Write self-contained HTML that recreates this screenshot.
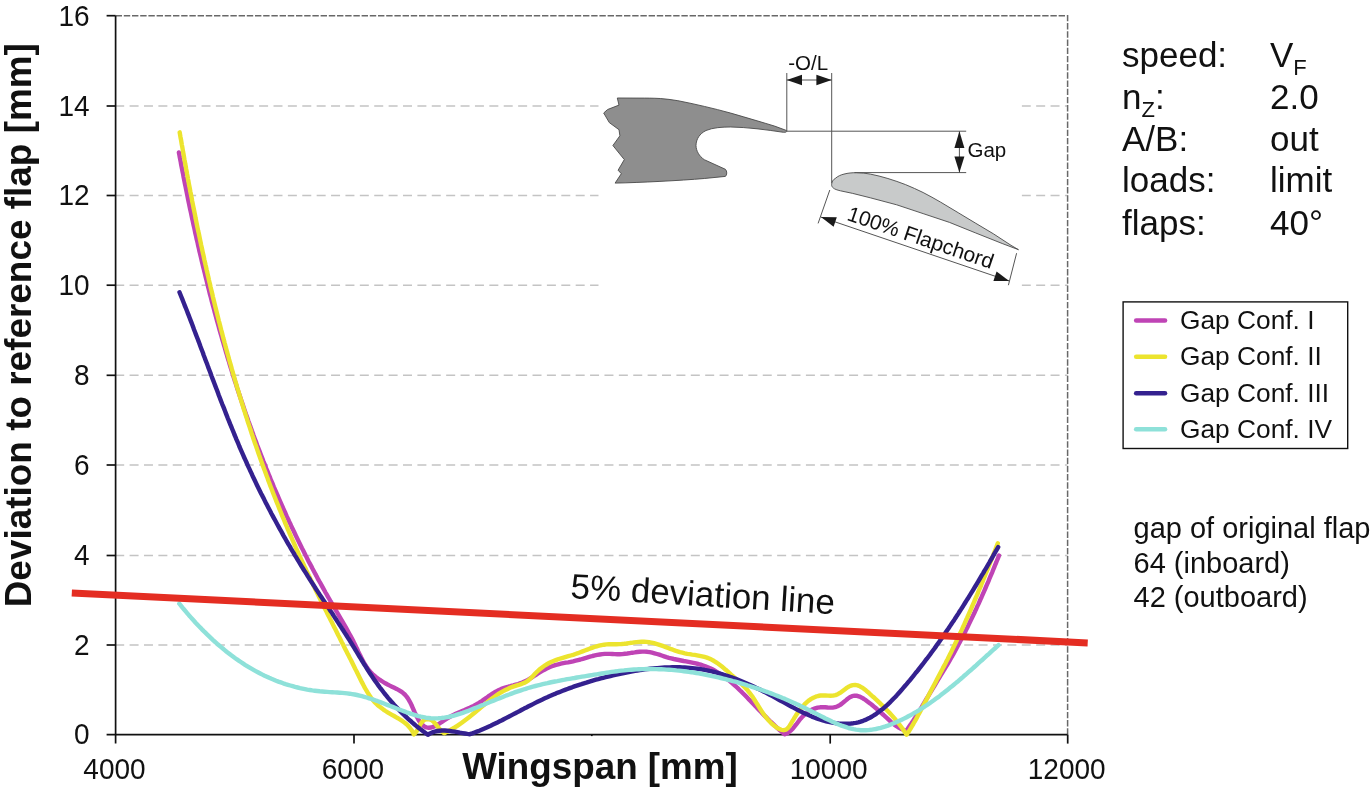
<!DOCTYPE html>
<html lang="en"><head><meta charset="utf-8"><title>Deviation to reference flap</title>
<style>html,body{margin:0;padding:0;background:#fff}body{width:1371px;height:796px;overflow:hidden}svg{display:block}text{font-family:"Liberation Sans",Arial,Helvetica,sans-serif;fill:#111}</style></head><body>
<svg width="1371" height="796" viewBox="0 0 1371 796">
<rect width="1371" height="796" fill="#fff"/>
<g stroke="#c4c4c4" stroke-width="1.5" stroke-dasharray="9 5.39" fill="none">
<line x1="115.2" y1="645.0" x2="1067.6" y2="645.0"/>
<line x1="115.2" y1="555.5" x2="1067.6" y2="555.5"/>
<line x1="115.2" y1="465.0" x2="1067.6" y2="465.0"/>
<line x1="115.2" y1="375.3" x2="1067.6" y2="375.3"/>
<line x1="115.2" y1="285.2" x2="1067.6" y2="285.2"/>
<line x1="115.2" y1="195.5" x2="1067.6" y2="195.5"/>
<line x1="115.2" y1="106.0" x2="1067.6" y2="106.0"/>
</g>
<path d="M115.6 15.7 H1067.6 V734.6" stroke="#686868" stroke-width="1.5" stroke-dasharray="6.4 1.8" fill="none"/>
<rect x="598.5" y="30" width="423" height="300" fill="#fff"/>
<path d="M617.3 98 L619 105.1 L607.6 109.5 L603.7 113 L609.3 122.6 L619 129.7 L619.9 135.8 L612.9 145.5 L624.3 159.6 L618.1 170.2 L621.3 173.7 L615.1 183.1 C640 182.6 680 180.6 704.3 178.5 L725.4 176.4 C727.2 175 727.2 171 725.4 169.3 L704.3 159.7 C699 156 696.2 151 696 145.5 C696.2 139 699.5 133.8 706 130.5 C713 127.6 722 127 730.7 127 C748 127.3 766 129.7 783.4 132.3 C786 132.6 787.2 131.6 786.6 130.6 L785.2 130 L774.6 126.1 C768.7 124.3 763 122.6 757 120.8 C748 118.2 739.5 115.6 730.7 113.1 C722 110.7 713 108.4 704.3 106.4 C695.5 104.4 686.5 102.3 677.9 100.7 C672 99.7 666 98.9 660.3 98.5 C653 98.1 646 98.1 640 98.1 Z" fill="#8e8e8e" stroke="#4a4a4a" stroke-width="0.9" stroke-linejoin="round"/>
<path d="M831.6 184.6 C831.8 181.5 833 179.8 835.2 178.5 C838 176 841 174.8 844 174.1 C848 173 852 172.7 856.3 172.7 C861 172.7 866 173.2 870.3 174.1 C876 175.2 882 176.7 887.9 178.5 C894 180.4 900 182.4 905.5 184.6 C911.5 187 917.5 189.8 923.1 192.5 C929 195.5 935 198.9 940.7 202.2 L958.2 212.7 L975.8 223.3 L993.4 233.8 L1011 245.3 L1018.5 249.7 L1002.2 243.5 L975.8 233 L949.5 222.4 L923.1 213.6 L896.7 204.8 L870.3 197.8 L852.7 193.4 L840.4 190.8 C837 190 834.8 189.2 833.4 188.1 C832.2 187.2 831.6 186 831.6 184.6 Z" fill="#c8caca" stroke="#4a4a4a" stroke-width="0.9" stroke-linejoin="round"/>
<g stroke="#555" stroke-width="1" fill="none">
<line x1="786.8" y1="73" x2="786.8" y2="131.2"/>
<line x1="831.7" y1="73" x2="831.7" y2="183"/>
<line x1="786.8" y1="80" x2="831.7" y2="80"/>
<line x1="786.8" y1="131.2" x2="966.2" y2="131.2"/>
<line x1="854.5" y1="172.6" x2="966.2" y2="172.6"/>
<line x1="959.4" y1="131.2" x2="959.4" y2="172.6"/>
<line x1="829.8" y1="190" x2="818.1" y2="223.4"/>
<line x1="1016.6" y1="253.2" x2="1008.4" y2="285.2"/>
<line x1="821" y1="217.1" x2="1009.2" y2="281"/>
</g>
<g fill="#1a1a1a">
<path d="M786.8 80 L802 74.7 L802 85.3 Z"/>
<path d="M831.7 80 L816.4 74.7 L816.4 85.3 Z"/>
<path d="M959.4 131.2 L954.4 147.9 L964.4 147.9 Z"/>
<path d="M959.4 172.6 L954.4 156.5 L964.4 156.5 Z"/>
<path d="M0 0 L15 -5 L15 5 Z" transform="translate(821 217.1) rotate(18.75)"/>
<path d="M0 0 L-15 -5 L-15 5 Z" transform="translate(1009.2 281) rotate(18.75)"/>
</g>
<text x="788.3" y="69.7" font-size="20.5">-O/L</text>
<text x="967.5" y="156.8" font-size="20.5">Gap</text>
<text transform="translate(915.1 249.05) rotate(18.75)" x="1.5" y="-5.5" text-anchor="middle" font-size="21">100% Flapchord</text>
<g stroke="#111" stroke-width="1.7" fill="none">
<line x1="115.6" y1="15.7" x2="115.6" y2="743.6"/>
<line x1="106.6" y1="734.6" x2="1067.6" y2="734.6"/>
<line x1="106.6" y1="645.0" x2="115.6" y2="645.0"/>
<line x1="106.6" y1="555.5" x2="115.6" y2="555.5"/>
<line x1="106.6" y1="465.0" x2="115.6" y2="465.0"/>
<line x1="106.6" y1="375.3" x2="115.6" y2="375.3"/>
<line x1="106.6" y1="285.2" x2="115.6" y2="285.2"/>
<line x1="106.6" y1="195.5" x2="115.6" y2="195.5"/>
<line x1="106.6" y1="106.0" x2="115.6" y2="106.0"/>
<line x1="106.6" y1="15.7" x2="115.6" y2="15.7"/>
<line x1="354.0" y1="734.6" x2="354.0" y2="743.6"/>
<line x1="830.2" y1="734.6" x2="830.2" y2="743.6"/>
<line x1="1067.7" y1="734.6" x2="1067.7" y2="743.6"/>
<line x1="591.8" y1="734.6" x2="591.8" y2="736.1"/>
</g>
<g fill="none" stroke-width="4.4" stroke-linecap="round" stroke-linejoin="round">
<path d="M178.9 152.5l0.5 2.5l0.4 2.4l0.5 2.5l0.5 2.4l0.4 2.5l0.5 2.5l0.5 2.4l0.5 2.5l0.5 2.4l0.4 2.5l0.5 2.5l0.5 2.4l0.5 2.5l0.5 2.4l0.5 2.5l0.5 2.4l0.5 2.5l0.5 2.4l0.5 2.5l0.5 2.5l0.5 2.4l0.5 2.5l0.5 2.4l0.6 2.5l0.5 2.4l0.5 2.5l0.5 2.4l0.6 2.5l0.5 2.4l0.5 2.4l0.6 2.5l0.5 2.4l0.5 2.5l0.6 2.4l0.5 2.5l0.6 2.4l0.6 2.5l0.5 2.4l0.6 2.4l0.5 2.5l0.6 2.4l0.6 2.5l0.6 2.4l0.5 2.4l0.6 2.5l0.6 2.4l0.6 2.4l0.6 2.5l0.6 2.4l0.6 2.4l0.6 2.5l0.6 2.4l0.6 2.4l0.6 2.5l0.6 2.4l0.6 2.4l0.6 2.5l0.6 2.4l0.7 2.4l0.6 2.4l0.6 2.5l0.7 2.4l0.6 2.4l0.7 2.4l0.6 2.4l0.7 2.5l0.6 2.4l0.7 2.4l0.6 2.4l0.7 2.4l0.7 2.4l0.6 2.4l0.7 2.5l0.7 2.4l0.7 2.4l0.7 2.4l0.7 2.4l0.7 2.4l0.7 2.4l0.7 2.4l0.7 2.4l0.7 2.4l0.7 2.4l0.7 2.4l0.7 2.4l0.8 2.4l0.7 2.4l0.7 2.4l0.8 2.4l0.7 2.4l0.8 2.4l0.7 2.4l0.8 2.4l0.7 2.3l0.8 2.4l0.8 2.4l0.7 2.4l0.8 2.4l0.8 2.4l0.8 2.3l0.8 2.4l0.8 2.4l0.8 2.4l0.8 2.3l0.8 2.4l0.8 2.4l0.8 2.3l0.8 2.4l0.9 2.4l0.8 2.3l0.8 2.4l0.9 2.4l0.8 2.3l0.9 2.4l0.8 2.3l0.9 2.4l0.8 2.3l0.9 2.4l0.9 2.3l0.9 2.4l0.8 2.3l0.9 2.4l0.9 2.3l0.9 2.3l0.9 2.4l0.9 2.3l0.9 2.3l0.9 2.4l1 2.3l0.9 2.3l0.9 2.4l1 2.3l0.9 2.3l0.9 2.3l1 2.3l0.9 2.4l1 2.3l1 2.3l0.9 2.3l1 2.3l1 2.3l1 2.3l1 2.3l1 2.3l1 2.3l1 2.3l1 2.3l1 2.3l1 2.3l1.1 2.2l1 2.3l1 2.3l1.1 2.3l1 2.3l1.1 2.2l1 2.3l1.1 2.3l1.1 2.2l1.1 2.3l1 2.3l1.1 2.2l1.1 2.3l1.1 2.2l1.1 2.3l1.1 2.2l1.1 2.3l1.2 2.2l1.1 2.2l1.1 2.3l1.2 2.2l1.1 2.2l1.1 2.3l1.2 2.2l1.2 2.2l1.1 2.2l1.2 2.2l1.2 2.2l1.2 2.2l1.1 2.2l1.2 2.3l1.2 2.1l1.3 2.2l1.2 2.2l1.2 2.2l1.2 2.2l1.2 2.2l1.3 2.2l1.2 2.1l1.3 2.2l1.2 2.2l1.3 2.2l1.2 2.1l1.3 2.2l1.3 2.1l1.3 2.2l1.2 2.1l1.3 2.2l1.3 2.2l1.2 2.1l1.3 2.2l1.2 2.2l1.3 2.1l1.2 2.2l1.2 2.2l1.2 2.2l1.2 2.2l1.2 2.2l1.2 2.2l1.1 2.3l1.1 2.2l1.1 2.3l1.1 2.2l1 2.3l1.1 2.3l1.1 2.2l1.1 2.3l1.2 2.2l1.2 2.2l1.3 2.1l1.3 2.1l1.5 2.1l1.5 1.9l1.7 1.9l1.8 1.8l1.9 1.6l1.9 1.6l2.1 1.4l2.1 1.4l2.1 1.3l2.2 1.3l2.2 1.2l2.2 1.1l2.2 1.1l2.3 1.1l2.3 1.1l2.2 1.2l2.1 1.3l2 1.4l1.9 1.7l1.6 1.9l1.5 2l1.3 2.2l1.2 2.2l1.1 2.2l1 2.3l1 2.3l1 2.3l1.1 2.3l1.1 2.2l1.1 2.2l1.3 2.2l1.4 2.1l1.7 1.8l1.9 1.6l2.3 1.1l2.4 0.4l2.5 -0.3l2.4 -0.8l2.3 -1l2.1 -1.3l2.1 -1.4l2.1 -1.4l2.1 -1.4l2.1 -1.4l2.1 -1.2l2.2 -1.3l2.2 -1.1l2.3 -1.1l2.3 -1.1l2.3 -1l2.3 -1l2.3 -0.9l2.3 -1l2.3 -1l2.2 -1.1l2.3 -1.1l2.2 -1.2l2.2 -1.2l2.1 -1.4l2.1 -1.3l2 -1.5l2.1 -1.4l2 -1.5l2.1 -1.4l2.1 -1.4l2.1 -1.3l2.2 -1.2l2.2 -1.2l2.3 -1l2.3 -0.8l2.4 -0.8l2.4 -0.6l2.5 -0.7l2.4 -0.6l2.4 -0.7l2.4 -0.7l2.4 -0.8l2.3 -0.9l2.3 -1.1l2.2 -1.1l2.2 -1.2l2.1 -1.3l2.2 -1.4l2.1 -1.3l2.1 -1.4l2.1 -1.3l2.1 -1.3l2.2 -1.2l2.2 -1.2l2.3 -1.1l2.3 -0.9l2.4 -0.8l2.4 -0.8l2.4 -0.6l2.4 -0.6l2.5 -0.5l2.5 -0.5l2.4 -0.4l2.5 -0.5l2.4 -0.5l2.5 -0.6l2.4 -0.6l2.4 -0.6l2.4 -0.7l2.4 -0.7l2.4 -0.7l2.4 -0.7l2.5 -0.7l2.4 -0.6l2.4 -0.5l2.5 -0.4l2.5 -0.4l2.5 -0.2l2.5 0l2.5 0l2.5 0.1l2.5 0.1l2.5 0.1l2.5 0l2.5 -0.1l2.5 -0.3l2.5 -0.3l2.5 -0.4l2.4 -0.4l2.5 -0.3l2.5 -0.4l2.5 -0.2l2.5 -0.2l2.5 0l2.5 0.2l2.5 0.4l2.4 0.5l2.4 0.6l2.5 0.7l2.3 0.7l2.4 0.8l2.4 0.8l2.4 0.8l2.4 0.7l2.4 0.6l2.5 0.6l2.4 0.5l2.5 0.5l2.4 0.5l2.5 0.5l2.4 0.4l2.5 0.5l2.5 0.5l2.4 0.5l2.5 0.5l2.4 0.6l2.4 0.7l2.4 0.8l2.3 0.8l2.4 0.9l2.3 1l2.2 1.1l2.2 1.2l2.2 1.3l2.1 1.3l2.1 1.3l2.1 1.5l2 1.4l2 1.6l2 1.5l1.9 1.6l1.9 1.7l1.9 1.6l1.8 1.7l1.8 1.7l1.8 1.8l1.8 1.7l1.8 1.8l1.8 1.8l1.7 1.8l1.7 1.8l1.8 1.8l1.7 1.8l1.7 1.8l1.8 1.8l1.7 1.8l1.7 1.8l1.8 1.9l1.7 1.8l1.7 1.7l1.8 1.8l1.8 1.8l1.8 1.8l1.8 1.7l1.8 1.7l1.8 1.7l1.9 1.7l1.8 1.7l1.9 1.6l2 1.6l1.9 1.6l2.3 -1l2.1 -1.4l2 -1.6l1.8 -1.8l1.6 -2l1.6 -2l1.5 -2l1.5 -2l1.6 -2l1.7 -1.9l1.8 -1.7l2 -1.7l2 -1.5l2.2 -1.3l2.2 -1.1l2.4 -0.9l2.5 -0.7l2.5 -0.4l2.5 0l2.5 0l2.6 0.2l2.5 0.1l2.5 0l2.5 -0.4l2.4 -0.9l2.2 -1.2l2.1 -1.5l1.9 -1.6l2 -1.6l1.9 -1.6l2.1 -1.5l2.3 -1.1l2.5 -0.5l2.5 0.1l2.4 0.8l2.3 1.1l2.2 1.3l2.1 1.4l2 1.5l2 1.5l2 1.6l1.9 1.6l2 1.7l1.9 1.6l1.9 1.7l1.9 1.7l1.9 1.7l1.8 1.7l1.9 1.7l1.9 1.8l1.8 1.7l2 1.6l1.9 1.6l2.1 1.4l2.2 1.4l2.2 1.1l2.4 1l2.4 0.7l1.5 -2l1.5 -2.1l1.4 -2l1.4 -2.1l1.4 -2.1l1.4 -2.1l1.3 -2.2l1.3 -2.1l1.4 -2.1l1.3 -2.2l1.3 -2.1l1.3 -2.2l1.2 -2.1l1.3 -2.2l1.3 -2.2l1.3 -2.1l1.3 -2.2l1.3 -2.2l1.3 -2.1l1.3 -2.2l1.3 -2.1l1.3 -2.2l1.3 -2.1l1.3 -2.2l1.3 -2.1l1.3 -2.2l1.3 -2.1l1.3 -2.2l1.3 -2.1l1.3 -2.2l1.3 -2.1l1.3 -2.2l1.3 -2.2l1.2 -2.1l1.3 -2.2l1.2 -2.2l1.2 -2.2l1.2 -2.2l1.2 -2.2l1.2 -2.2l1.2 -2.3l1.2 -2.2l1.1 -2.2l1.2 -2.3l1.1 -2.2l1.2 -2.2l1.1 -2.3l1.1 -2.2l1.1 -2.3l1.1 -2.3l1.1 -2.2l1.1 -2.3l1.1 -2.3l1.1 -2.2l1 -2.3l1.1 -2.3l1 -2.3l1.1 -2.3l1 -2.3l1 -2.3l1.1 -2.3l1 -2.3l1 -2.3l1 -2.3l1 -2.3l1 -2.3l1 -2.3l1 -2.3l0.9 -2.3l1 -2.4l1 -2.3l1 -2.3l0.9 -2.3l1 -2.4l0.9 -2.3l1 -2.3l0.9 -2.3l1 -2.4l0.9 -2.3" stroke="#bf44b5"/>
<path d="M179.7 132.3l0.4 2.5l0.4 2.4l0.5 2.5l0.4 2.5l0.4 2.4l0.5 2.5l0.4 2.4l0.4 2.5l0.5 2.5l0.4 2.4l0.4 2.5l0.5 2.5l0.4 2.4l0.5 2.5l0.4 2.4l0.5 2.5l0.4 2.5l0.5 2.4l0.4 2.5l0.5 2.4l0.4 2.5l0.5 2.4l0.5 2.5l0.4 2.5l0.5 2.4l0.5 2.5l0.5 2.4l0.4 2.5l0.5 2.4l0.5 2.5l0.5 2.4l0.5 2.5l0.5 2.4l0.5 2.5l0.4 2.4l0.5 2.5l0.5 2.4l0.5 2.5l0.5 2.4l0.5 2.5l0.6 2.4l0.5 2.5l0.5 2.4l0.5 2.5l0.5 2.4l0.5 2.5l0.6 2.4l0.5 2.5l0.5 2.4l0.6 2.4l0.5 2.5l0.5 2.4l0.6 2.5l0.5 2.4l0.6 2.5l0.5 2.4l0.6 2.4l0.5 2.5l0.6 2.4l0.5 2.4l0.6 2.5l0.6 2.4l0.5 2.4l0.6 2.5l0.6 2.4l0.6 2.4l0.5 2.5l0.6 2.4l0.6 2.4l0.6 2.5l0.6 2.4l0.6 2.4l0.6 2.5l0.6 2.4l0.6 2.4l0.6 2.4l0.6 2.5l0.7 2.4l0.6 2.4l0.6 2.4l0.6 2.4l0.7 2.5l0.6 2.4l0.6 2.4l0.7 2.4l0.6 2.4l0.7 2.4l0.6 2.5l0.7 2.4l0.6 2.4l0.7 2.4l0.7 2.4l0.6 2.4l0.7 2.4l0.7 2.4l0.7 2.4l0.6 2.4l0.7 2.4l0.7 2.4l0.7 2.4l0.7 2.4l0.7 2.4l0.7 2.4l0.7 2.4l0.7 2.4l0.8 2.4l0.7 2.4l0.7 2.4l0.7 2.4l0.8 2.4l0.7 2.4l0.7 2.4l0.8 2.4l0.7 2.4l0.8 2.3l0.7 2.4l0.8 2.4l0.8 2.4l0.7 2.4l0.8 2.3l0.8 2.4l0.8 2.4l0.8 2.4l0.7 2.3l0.8 2.4l0.8 2.4l0.8 2.3l0.8 2.4l0.9 2.4l0.8 2.3l0.8 2.4l0.8 2.4l0.8 2.3l0.9 2.4l0.8 2.3l0.9 2.4l0.8 2.3l0.8 2.4l0.9 2.4l0.9 2.3l0.8 2.3l0.9 2.4l0.9 2.3l0.8 2.4l0.9 2.3l0.9 2.4l0.9 2.3l0.9 2.3l0.9 2.4l0.9 2.3l0.9 2.3l0.9 2.3l0.9 2.4l1 2.3l0.9 2.3l0.9 2.3l1 2.4l0.9 2.3l0.9 2.3l1 2.3l1 2.3l0.9 2.3l1 2.3l1 2.3l0.9 2.3l1 2.3l1 2.3l1 2.3l1 2.3l1 2.3l1 2.3l1 2.3l1 2.3l1 2.2l1.1 2.3l1 2.3l1 2.3l1.1 2.3l1 2.2l1.1 2.3l1 2.3l1.1 2.2l1 2.3l1.1 2.3l1.1 2.2l1.1 2.3l1 2.2l1.1 2.3l1.1 2.2l1.1 2.3l1.1 2.2l1.1 2.3l1.1 2.2l1.1 2.3l1.1 2.2l1.1 2.2l1.1 2.3l1.1 2.2l1.1 2.3l1.1 2.2l1.2 2.2l1.1 2.3l1.1 2.2l1.1 2.2l1.2 2.3l1.1 2.2l1.1 2.2l1.1 2.3l1.2 2.2l1.1 2.2l1.1 2.3l1.1 2.2l1.2 2.2l1.1 2.3l1.1 2.2l1.2 2.2l1.1 2.3l1.1 2.2l1.1 2.2l1.2 2.3l1.1 2.2l1.1 2.2l1.2 2.2l1.1 2.3l1.1 2.2l1.1 2.3l1.1 2.2l1.2 2.2l1.1 2.3l1.1 2.2l1.1 2.2l1.1 2.3l1.1 2.2l1.2 2.2l1.1 2.3l1.2 2.1l1.3 2.2l1.3 2.1l1.4 2.1l1.4 2.1l1.5 2l1.6 1.9l1.7 1.8l1.8 1.8l1.9 1.6l2 1.5l2 1.5l2.1 1.4l2.1 1.3l2.2 1.3l2.1 1.2l2.2 1.2l2.2 1.3l2.1 1.2l2.2 1.4l2 1.3l2.1 1.5l1.9 1.6l1.8 1.8l1.6 1.9l1.5 2l1.3 2.1l1 2.3l1.8 -1.8l1.5 -2.1l1.2 -2.3l1.2 -2.3l1.3 -2.2l1.5 -2.1l2 -1.6l2.5 -0.8l2.5 0.1l2.4 1l2 1.6l1.8 1.9l1.6 2l1.6 2l1.6 2l1.8 1.9l2.1 1.5l2.3 -1.1l2.2 -1.2l2.2 -1.2l2.1 -1.2l2.2 -1.3l2.1 -1.4l2.1 -1.4l2 -1.4l2 -1.5l2 -1.5l2 -1.5l2 -1.5l2 -1.6l1.9 -1.6l1.9 -1.6l2 -1.6l1.9 -1.6l1.9 -1.6l1.9 -1.6l2 -1.6l1.9 -1.6l2 -1.6l1.9 -1.5l2 -1.5l2.1 -1.5l2 -1.4l2.1 -1.4l2.1 -1.3l2.2 -1.3l2.2 -1.1l2.3 -1.1l2.2 -1.1l2.4 -0.9l2.3 -0.8l2.4 -0.8l2.4 -0.7l2.4 -0.8l2.3 -0.9l2.3 -1.1l2 -1.4l1.9 -1.7l1.8 -1.7l1.7 -1.9l1.7 -1.8l1.8 -1.8l1.8 -1.7l2 -1.6l2 -1.5l2 -1.4l2.2 -1.3l2.2 -1.2l2.2 -1.1l2.3 -0.9l2.4 -0.9l2.3 -0.9l2.4 -0.7l2.4 -0.7l2.4 -0.7l2.5 -0.7l2.4 -0.7l2.4 -0.7l2.3 -0.8l2.4 -0.8l2.4 -0.9l2.3 -0.9l2.3 -0.9l2.4 -0.9l2.3 -0.9l2.4 -0.8l2.3 -0.9l2.4 -0.7l2.4 -0.6l2.5 -0.6l2.5 -0.4l2.4 -0.3l2.5 -0.1l2.6 -0.1l2.5 0l2.5 0l2.5 -0.1l2.5 -0.1l2.5 -0.2l2.4 -0.3l2.5 -0.4l2.5 -0.3l2.5 -0.4l2.5 -0.3l2.5 -0.2l2.5 -0.2l2.5 0l2.5 0.2l2.5 0.3l2.4 0.4l2.5 0.6l2.4 0.7l2.4 0.7l2.3 0.8l2.4 0.8l2.4 0.9l2.3 0.9l2.3 0.9l2.4 0.8l2.4 0.9l2.3 0.7l2.4 0.8l2.5 0.6l2.4 0.6l2.5 0.5l2.4 0.4l2.5 0.4l2.5 0.3l2.4 0.4l2.5 0.5l2.5 0.5l2.4 0.6l2.4 0.7l2.3 0.9l2.3 1.1l2.2 1.2l2.1 1.3l2.1 1.4l2 1.5l2 1.5l1.9 1.6l1.9 1.7l1.9 1.6l1.9 1.7l1.8 1.7l1.9 1.7l1.8 1.6l1.9 1.7l1.9 1.7l1.8 1.7l1.8 1.7l1.8 1.8l1.7 1.8l1.7 1.8l1.6 2l1.5 2l1.5 2l1.4 2.1l1.3 2.1l1.3 2.1l1.4 2.2l1.3 2.1l1.3 2.1l1.4 2.1l1.4 2.1l1.4 2l1.5 2l1.6 2l1.7 1.8l1.7 1.8l1.9 1.7l1.9 1.6l2 1.5l2.2 1.2l2.3 1l2.5 0.4l2.4 -0.6l1.9 -1.6l1.5 -2l1.3 -2.1l1.3 -2.2l1.3 -2.1l1.3 -2.2l1.3 -2.1l1.4 -2.1l1.4 -2l1.5 -2l1.6 -2l1.7 -1.8l1.7 -1.8l1.9 -1.7l1.9 -1.6l2.1 -1.4l2.2 -1.2l2.3 -1l2.4 -0.7l2.4 -0.5l2.5 -0.1l2.5 0.1l2.5 0.1l2.5 0.1l2.5 -0.1l2.5 -0.5l2.3 -0.9l2.2 -1.3l2 -1.5l2 -1.5l2 -1.5l2.1 -1.4l2.2 -1.1l2.4 -0.8l2.4 -0.2l2.5 0.5l2.3 0.9l2.2 1.3l2 1.5l2 1.5l1.9 1.6l1.8 1.7l1.9 1.7l1.9 1.6l1.8 1.7l1.9 1.7l1.8 1.7l1.8 1.8l1.8 1.7l1.8 1.8l1.7 1.8l1.8 1.8l1.7 1.8l1.7 1.9l1.6 1.8l1.7 1.9l1.6 2l1.5 1.9l1.6 2l1.5 2l1.5 2l1.4 2l1.4 2.1l1.4 2.1l1.4 -2.1l1.4 -2.1l1.3 -2.2l1.3 -2.2l1.3 -2.1l1.2 -2.2l1.3 -2.2l1.2 -2.2l1.2 -2.3l1.2 -2.2l1.2 -2.2l1.2 -2.3l1.2 -2.2l1.1 -2.2l1.2 -2.3l1.2 -2.2l1.1 -2.3l1.2 -2.2l1.2 -2.3l1.1 -2.2l1.2 -2.2l1.2 -2.3l1.2 -2.2l1.2 -2.2l1.1 -2.3l1.2 -2.2l1.2 -2.2l1.2 -2.3l1.2 -2.2l1.1 -2.3l1.2 -2.2l1.2 -2.2l1.1 -2.3l1.2 -2.2l1.1 -2.3l1.2 -2.3l1.1 -2.2l1.1 -2.3l1.1 -2.3l1.1 -2.2l1.1 -2.3l1.1 -2.3l1.1 -2.3l1.1 -2.3l1 -2.3l1.1 -2.2l1.1 -2.3l1 -2.3l1.1 -2.3l1 -2.4l1 -2.3l1.1 -2.3l1 -2.3l1 -2.3l1 -2.3l1 -2.3l1 -2.4l1 -2.3l1 -2.3l1 -2.3l1 -2.4l1 -2.3l1 -2.3l0.9 -2.4l1 -2.3l1 -2.3l0.9 -2.4l1 -2.3l0.9 -2.3l1 -2.4l0.9 -2.3l1 -2.4l0.9 -2.3l1 -2.4l0.9 -2.3l0.9 -2.4l1 -2.3l0.9 -2.4l0.9 -2.3l1 -2.4l0.9 -2.3l0.9 -2.4l0.9 -2.3l0.9 -2.4" stroke="#ece42e"/>
<path d="M179.5 292.2l0.9 2.3l0.9 2.3l1 2.4l0.9 2.3l0.9 2.3l0.9 2.3l1 2.4l0.9 2.3l0.9 2.3l0.9 2.3l0.9 2.4l0.9 2.3l0.9 2.3l0.9 2.4l0.9 2.3l0.8 2.4l0.9 2.3l0.9 2.3l0.9 2.4l0.9 2.3l0.9 2.3l0.9 2.4l0.8 2.3l0.9 2.4l0.9 2.3l0.9 2.3l0.8 2.4l0.9 2.3l0.9 2.4l0.9 2.3l0.9 2.4l0.8 2.3l0.9 2.3l0.9 2.4l0.9 2.3l0.8 2.4l0.9 2.3l0.9 2.3l0.9 2.4l0.9 2.3l0.9 2.4l0.9 2.3l0.9 2.3l0.8 2.4l0.9 2.3l0.9 2.3l0.9 2.4l0.9 2.3l1 2.3l0.9 2.3l0.9 2.4l0.9 2.3l0.9 2.3l0.9 2.4l1 2.3l0.9 2.3l0.9 2.3l1 2.3l0.9 2.3l1 2.4l0.9 2.3l1 2.3l0.9 2.3l1 2.3l1 2.3l0.9 2.3l1 2.3l1 2.3l1 2.3l1 2.3l1 2.3l1 2.2l1.1 2.3l1 2.3l1 2.3l1.1 2.3l1 2.2l1.1 2.3l1 2.3l1.1 2.2l1.1 2.3l1 2.2l1.1 2.3l1.1 2.2l1.1 2.3l1.1 2.2l1.1 2.3l1.2 2.2l1.1 2.2l1.1 2.3l1.1 2.2l1.2 2.2l1.1 2.2l1.2 2.3l1.2 2.2l1.1 2.2l1.2 2.2l1.2 2.2l1.2 2.2l1.2 2.2l1.2 2.2l1.2 2.2l1.2 2.2l1.2 2.1l1.2 2.2l1.2 2.2l1.3 2.2l1.2 2.2l1.2 2.1l1.3 2.2l1.3 2.1l1.2 2.2l1.3 2.2l1.3 2.1l1.2 2.2l1.3 2.1l1.3 2.1l1.3 2.2l1.3 2.1l1.3 2.2l1.3 2.1l1.3 2.1l1.4 2.1l1.3 2.1l1.3 2.2l1.4 2.1l1.3 2.1l1.4 2.1l1.3 2.1l1.4 2.1l1.3 2.1l1.4 2.1l1.4 2.1l1.3 2.1l1.4 2l1.4 2.1l1.4 2.1l1.4 2.1l1.3 2.1l1.4 2.1l1.4 2.1l1.4 2l1.4 2.1l1.3 2.1l1.4 2.1l1.4 2.1l1.3 2.1l1.4 2.1l1.4 2.1l1.3 2.1l1.4 2.1l1.3 2.1l1.4 2.1l1.3 2.1l1.4 2.1l1.3 2.1l1.3 2.1l1.3 2.2l1.3 2.1l1.3 2.1l1.3 2.2l1.3 2.1l1.3 2.2l1.3 2.1l1.3 2.1l1.3 2.2l1.3 2.1l1.4 2.1l1.3 2.1l1.3 2.1l1.4 2.1l1.4 2.1l1.4 2.1l1.4 2.1l1.4 2l1.5 2l1.5 2.1l1.4 2l1.6 1.9l1.5 2l1.5 2l1.6 1.9l1.6 2l1.6 1.9l1.7 1.9l1.6 1.8l1.7 1.9l1.7 1.8l1.7 1.8l1.7 1.9l1.8 1.7l1.8 1.8l1.8 1.7l1.8 1.8l1.8 1.7l1.9 1.6l1.8 1.7l1.9 1.6l1.9 1.6l2 1.6l1.9 1.6l2 1.5l2 1.5l2 1.5l2 1.5l2.2 -1.3l2.3 -1.1l2.4 -0.8l2.5 -0.6l2.5 -0.3l2.5 -0.2l2.6 0l2.5 0.2l2.5 0.2l2.5 0.4l2.6 0.4l2.5 0.5l2.5 0.5l2.5 0.4l2.5 0.4l2.5 0.4l2.5 0.3l2.4 -0.8l2.3 -0.9l2.3 -0.9l2.4 -0.9l2.3 -1l2.3 -1l2.3 -1l2.2 -1l2.3 -1l2.3 -1.1l2.2 -1.1l2.3 -1.1l2.2 -1.1l2.3 -1.1l2.2 -1.2l2.2 -1.1l2.2 -1.1l2.2 -1.2l2.3 -1.2l2.2 -1.1l2.2 -1.2l2.2 -1.1l2.2 -1.2l2.2 -1.2l2.3 -1.1l2.2 -1.2l2.2 -1.1l2.2 -1.1l2.3 -1.2l2.2 -1.1l2.3 -1.1l2.2 -1l2.3 -1.1l2.3 -1l2.2 -1.1l2.3 -1l2.3 -1l2.3 -0.9l2.3 -1l2.4 -0.9l2.3 -0.9l2.3 -0.9l2.4 -0.9l2.3 -0.9l2.4 -0.8l2.3 -0.9l2.4 -0.8l2.4 -0.8l2.3 -0.7l2.4 -0.8l2.4 -0.7l2.4 -0.8l2.4 -0.7l2.4 -0.7l2.4 -0.7l2.4 -0.6l2.4 -0.7l2.4 -0.6l2.5 -0.6l2.4 -0.6l2.4 -0.6l2.5 -0.6l2.4 -0.6l2.4 -0.5l2.5 -0.5l2.4 -0.5l2.5 -0.5l2.4 -0.5l2.5 -0.5l2.5 -0.4l2.4 -0.5l2.5 -0.4l2.5 -0.4l2.4 -0.3l2.5 -0.4l2.5 -0.3l2.5 -0.3l2.5 -0.3l2.4 -0.2l2.5 -0.2l2.5 -0.2l2.5 -0.2l2.5 -0.2l2.5 -0.1l2.5 0l2.5 -0.1l2.5 0l2.5 0l2.5 0l2.5 0.1l2.5 0.1l2.5 0.2l2.5 0.2l2.5 0.2l2.5 0.3l2.5 0.3l2.4 0.3l2.5 0.4l2.5 0.5l2.4 0.4l2.5 0.6l2.4 0.5l2.4 0.6l2.5 0.6l2.4 0.7l2.4 0.7l2.4 0.8l2.3 0.7l2.4 0.8l2.4 0.9l2.3 0.8l2.4 0.9l2.3 0.9l2.3 0.9l2.3 1l2.3 1l2.3 1l2.3 1l2.3 1.1l2.2 1l2.3 1.1l2.2 1.1l2.3 1.1l2.2 1.1l2.2 1.2l2.2 1.1l2.3 1.2l2.2 1.2l2.2 1.2l2.2 1.2l2.1 1.2l2.2 1.2l2.2 1.2l2.2 1.2l2.2 1.2l2.2 1.3l2.2 1.2l2.2 1.1l2.2 1.2l2.2 1.2l2.2 1.1l2.3 1.1l2.2 1.1l2.3 1l2.3 1l2.3 1l2.3 0.9l2.4 0.9l2.3 0.8l2.4 0.7l2.4 0.8l2.4 0.6l2.5 0.6l2.4 0.5l2.5 0.4l2.4 0.4l2.5 0.3l2.5 0.2l2.5 0.1l2.5 0l2.5 -0.1l2.5 -0.2l2.5 -0.3l2.5 -0.4l2.4 -0.5l2.4 -0.7l2.4 -0.8l2.3 -0.9l2.3 -1.1l2.2 -1.1l2.2 -1.2l2.1 -1.3l2.1 -1.4l2 -1.5l2 -1.5l2 -1.5l1.9 -1.7l1.9 -1.6l1.8 -1.7l1.8 -1.7l1.8 -1.8l1.7 -1.8l1.8 -1.8l1.7 -1.8l1.7 -1.9l1.6 -1.8l1.7 -1.9l1.6 -1.9l1.6 -1.9l1.7 -1.9l1.6 -1.9l1.6 -1.9l1.6 -2l1.6 -1.9l1.5 -1.9l1.6 -2l1.6 -1.9l1.5 -2l1.6 -2l1.5 -1.9l1.5 -2l1.5 -2l1.6 -2l1.5 -2l1.5 -2l1.4 -2l1.5 -2l1.5 -2l1.5 -2.1l1.4 -2l1.5 -2l1.4 -2.1l1.5 -2l1.4 -2.1l1.4 -2l1.4 -2.1l1.4 -2.1l1.4 -2l1.4 -2.1l1.4 -2.1l1.4 -2.1l1.4 -2l1.4 -2.1l1.3 -2.1l1.4 -2.1l1.3 -2.1l1.4 -2.1l1.3 -2.1l1.4 -2.2l1.3 -2.1l1.3 -2.1l1.4 -2.1l1.3 -2.1l1.3 -2.2l1.3 -2.1l1.3 -2.1l1.3 -2.2l1.3 -2.1l1.3 -2.2l1.3 -2.1l1.2 -2.1l1.3 -2.2l1.3 -2.2l1.3 -2.1l1.2 -2.2l1.3 -2.1l1.3 -2.2l1.2 -2.1l1.3 -2.2l1.2 -2.2l1.3 -2.1l1.2 -2.2l1.2 -2.2l1.3 -2.2l1.2 -2.1l1.3 -2.2" stroke="#34218f"/>
<path d="M179.3 603.7l1.6 1.9l1.6 2l1.6 1.9l1.6 1.9l1.6 1.9l1.6 1.9l1.7 1.9l1.7 1.9l1.6 1.8l1.7 1.9l1.7 1.8l1.7 1.8l1.8 1.8l1.7 1.8l1.8 1.8l1.8 1.7l1.8 1.8l1.8 1.7l1.8 1.7l1.8 1.7l1.9 1.7l1.8 1.7l1.9 1.6l1.9 1.6l2 1.6l1.9 1.6l1.9 1.6l2 1.5l2 1.6l2 1.5l2 1.5l2 1.4l2.1 1.4l2.1 1.4l2.1 1.4l2.1 1.4l2.1 1.3l2.1 1.3l2.2 1.3l2.1 1.2l2.2 1.2l2.2 1.2l2.3 1.2l2.2 1.1l2.2 1.1l2.3 1l2.3 1.1l2.3 1l2.3 0.9l2.3 1l2.3 0.9l2.4 0.8l2.4 0.9l2.3 0.8l2.4 0.7l2.4 0.7l2.4 0.7l2.4 0.7l2.5 0.6l2.4 0.6l2.4 0.5l2.5 0.5l2.4 0.5l2.5 0.4l2.5 0.4l2.5 0.3l2.4 0.3l2.5 0.3l2.5 0.2l2.5 0.2l2.5 0.2l2.5 0.2l2.5 0.1l2.5 0.2l2.5 0.1l2.5 0.2l2.5 0.2l2.5 0.2l2.5 0.3l2.4 0.3l2.5 0.4l2.5 0.4l2.4 0.5l2.5 0.6l2.4 0.6l2.4 0.6l2.4 0.7l2.4 0.8l2.4 0.7l2.4 0.8l2.3 0.9l2.4 0.8l2.3 0.9l2.4 0.9l2.3 0.9l2.3 0.9l2.4 0.9l2.3 0.9l2.3 0.9l2.3 1l2.4 0.9l2.3 0.8l2.4 0.9l2.3 0.9l2.4 0.8l2.3 0.8l2.4 0.8l2.4 0.7l2.4 0.7l2.4 0.6l2.5 0.5l2.5 0.5l2.4 0.3l2.5 0.3l2.5 0.1l2.5 0l2.5 -0.1l2.5 -0.2l2.5 -0.3l2.5 -0.4l2.4 -0.4l2.5 -0.6l2.4 -0.6l2.4 -0.6l2.4 -0.8l2.4 -0.7l2.4 -0.8l2.3 -0.9l2.4 -0.8l2.3 -0.9l2.3 -0.9l2.4 -1l2.3 -0.9l2.3 -0.9l2.3 -1l2.3 -0.9l2.3 -1l2.4 -0.9l2.3 -1l2.3 -0.9l2.3 -1l2.3 -0.9l2.4 -0.9l2.3 -0.9l2.3 -1l2.3 -0.9l2.4 -0.8l2.3 -0.9l2.4 -0.9l2.3 -0.8l2.4 -0.8l2.4 -0.8l2.4 -0.8l2.3 -0.7l2.4 -0.8l2.4 -0.7l2.4 -0.7l2.5 -0.6l2.4 -0.6l2.4 -0.6l2.4 -0.6l2.5 -0.6l2.4 -0.5l2.5 -0.6l2.4 -0.5l2.5 -0.5l2.4 -0.4l2.5 -0.5l2.4 -0.5l2.5 -0.4l2.5 -0.5l2.4 -0.4l2.5 -0.4l2.5 -0.4l2.4 -0.5l2.5 -0.4l2.5 -0.4l2.4 -0.4l2.5 -0.4l2.5 -0.4l2.4 -0.4l2.5 -0.4l2.5 -0.4l2.4 -0.4l2.5 -0.4l2.5 -0.4l2.5 -0.4l2.4 -0.4l2.5 -0.4l2.5 -0.3l2.5 -0.3l2.4 -0.4l2.5 -0.3l2.5 -0.2l2.5 -0.3l2.5 -0.2l2.5 -0.2l2.5 -0.2l2.5 -0.1l2.5 -0.2l2.5 -0.1l2.5 0l2.5 -0.1l2.5 0l2.5 0l2.5 0l2.5 0.1l2.5 0.1l2.5 0.1l2.5 0.1l2.5 0.2l2.5 0.1l2.5 0.2l2.5 0.2l2.5 0.3l2.5 0.2l2.4 0.3l2.5 0.3l2.5 0.3l2.5 0.4l2.5 0.3l2.4 0.4l2.5 0.4l2.5 0.4l2.4 0.5l2.5 0.4l2.4 0.5l2.5 0.5l2.5 0.5l2.4 0.5l2.4 0.5l2.5 0.6l2.4 0.6l2.4 0.6l2.5 0.6l2.4 0.6l2.4 0.6l2.4 0.7l2.4 0.6l2.5 0.7l2.4 0.7l2.4 0.7l2.4 0.7l2.3 0.8l2.4 0.7l2.4 0.8l2.4 0.8l2.4 0.8l2.3 0.8l2.4 0.8l2.4 0.8l2.3 0.9l2.4 0.8l2.3 0.9l2.3 0.9l2.4 0.9l2.3 0.9l2.3 0.9l2.3 1l2.4 0.9l2.3 1l2.3 1l2.2 1l2.3 1l2.3 1.1l2.3 1l2.2 1.1l2.3 1.1l2.2 1.1l2.3 1.1l2.2 1.1l2.2 1.2l2.3 1.1l2.2 1.1l2.2 1.2l2.3 1.1l2.2 1.1l2.2 1.2l2.3 1.1l2.2 1l2.3 1.1l2.3 1l2.3 1l2.3 1l2.3 0.9l2.4 0.8l2.3 0.8l2.4 0.8l2.5 0.6l2.4 0.6l2.5 0.4l2.4 0.3l2.5 0.3l2.5 0.1l2.5 -0.1l2.5 -0.1l2.5 -0.3l2.5 -0.4l2.4 -0.4l2.5 -0.6l2.4 -0.6l2.4 -0.7l2.4 -0.7l2.4 -0.8l2.3 -0.9l2.3 -0.9l2.4 -1l2.3 -1l2.2 -1l2.3 -1.1l2.2 -1.1l2.3 -1.1l2.2 -1.2l2.2 -1.2l2.2 -1.2l2.1 -1.3l2.2 -1.2l2.1 -1.3l2.1 -1.4l2.1 -1.3l2.1 -1.4l2.1 -1.4l2.1 -1.4l2 -1.4l2.1 -1.5l2 -1.5l2 -1.4l2 -1.5l2 -1.6l2 -1.5l1.9 -1.5l2 -1.6l1.9 -1.6l2 -1.5l1.9 -1.6l1.9 -1.6l2 -1.6l1.9 -1.7l1.9 -1.6l1.9 -1.6l1.8 -1.7l1.9 -1.6l1.9 -1.7l1.9 -1.6l1.9 -1.7l1.8 -1.6l1.9 -1.7l1.8 -1.7l1.9 -1.7l1.9 -1.6l1.8 -1.7l1.9 -1.7l1.8 -1.7l1.9 -1.6l1.8 -1.7l1.9 -1.7l1.9 -1.7l1.8 -1.6l1.9 -1.7" stroke="#8ee1d9"/>
</g>
<line x1="71.8" y1="593" x2="1087.7" y2="642.9" stroke="#e42d22" stroke-width="7"/>
<g font-size="28" text-anchor="end">
<text transform="translate(89.6 744.4) scale(1 1.06)">0</text>
<text transform="translate(89.6 654.9) scale(1 1.06)">2</text>
<text transform="translate(89.6 565.4) scale(1 1.06)">4</text>
<text transform="translate(89.6 474.9) scale(1 1.06)">6</text>
<text transform="translate(89.6 385.2) scale(1 1.06)">8</text>
<text transform="translate(89.6 295.1) scale(1 1.06)">10</text>
<text transform="translate(89.6 205.4) scale(1 1.06)">12</text>
<text transform="translate(89.6 115.9) scale(1 1.06)">14</text>
<text transform="translate(89.6 25.6) scale(1 1.06)">16</text>
</g>
<g font-size="28" text-anchor="middle">
<text transform="translate(114.5 778.6) scale(1 1.06)">4000</text>
<text transform="translate(352.9 778.6) scale(1 1.06)">6000</text>
<text transform="translate(828.6 778.6) scale(1 1.06)">10000</text>
<text transform="translate(1066.7 778.6) scale(1 1.06)">12000</text>
</g>
<text x="600" y="778.5" font-size="36.8" font-weight="bold" text-anchor="middle">Wingspan [mm]</text>
<text transform="translate(31.4 325.2) rotate(-90)" font-size="36.93" font-weight="bold" text-anchor="middle">Deviation to reference flap [mm]</text>
<text transform="translate(570 598) rotate(3.5)" font-size="35">5% deviation line</text>
<g font-size="35">
<text x="1122" y="66.8">speed:</text><text x="1270" y="66.8">V<tspan font-size="22" dy="8.2">F</tspan></text>
<text x="1122" y="108.7">n<tspan font-size="22" dy="8">Z</tspan><tspan dy="-8">:</tspan></text><text x="1270" y="108.7">2.0</text>
<text x="1122" y="150.5">A/B:</text><text x="1270" y="150.5">out</text>
<text x="1122" y="192.3">loads:</text><text x="1270" y="192.3">limit</text>
<text x="1122" y="234.9">flaps:</text><text x="1270" y="234.9">40°</text>
</g>
<rect x="1123.1" y="301.9" width="224.6" height="146.6" fill="#fff" stroke="#111" stroke-width="1.4"/>
<line x1="1136.2" y1="320.5" x2="1165" y2="320.5" stroke="#bf44b5" stroke-width="4.6" stroke-linecap="round"/>
<text x="1180" y="329.0" font-size="26.3">Gap Conf. I</text>
<line x1="1136.2" y1="356.8" x2="1165" y2="356.8" stroke="#ece42e" stroke-width="4.6" stroke-linecap="round"/>
<text x="1180" y="365.3" font-size="26.3">Gap Conf. II</text>
<line x1="1136.2" y1="393.3" x2="1165" y2="393.3" stroke="#34218f" stroke-width="4.6" stroke-linecap="round"/>
<text x="1180" y="401.8" font-size="26.3">Gap Conf. III</text>
<line x1="1136.2" y1="429.3" x2="1165" y2="429.3" stroke="#8ee1d9" stroke-width="4.6" stroke-linecap="round"/>
<text x="1180" y="437.8" font-size="26.3">Gap Conf. IV</text>
<g font-size="29">
<text x="1133.5" y="538">gap of original flap</text>
<text x="1133.5" y="573">64 (inboard)</text>
<text x="1133.5" y="607.2">42 (outboard)</text>
</g>
</svg></body></html>
